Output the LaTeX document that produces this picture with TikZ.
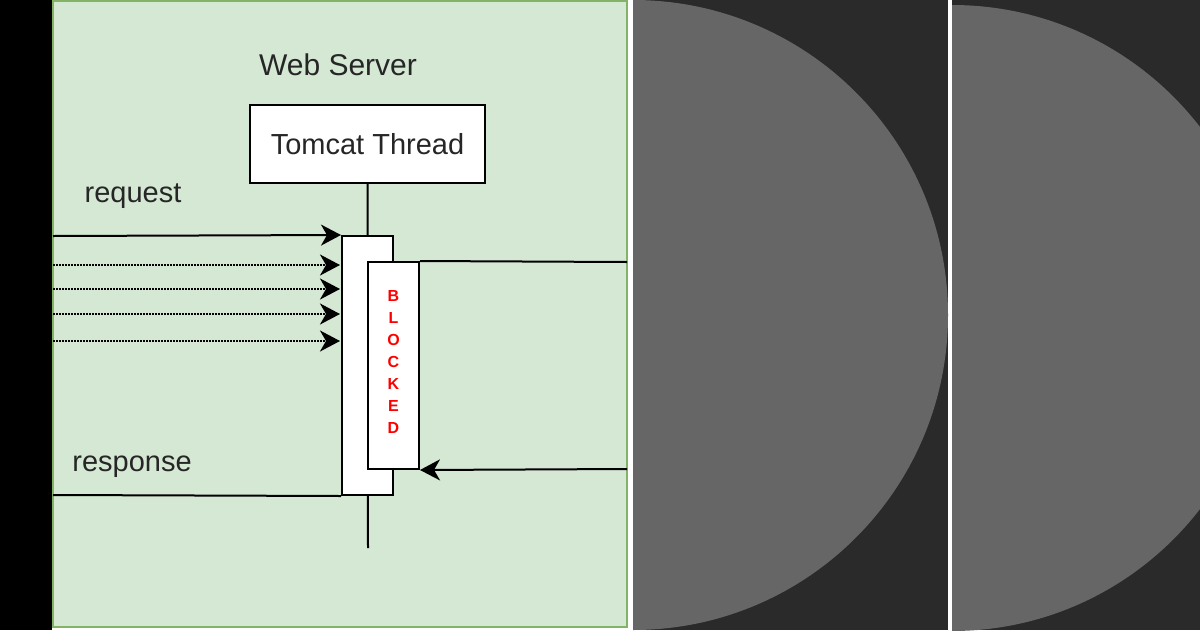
\documentclass[tikz,border=0pt]{standalone}
\usepackage{fontspec}
\setmainfont{Liberation Sans}
\usetikzlibrary{%
  arrows.meta,
  positioning
}
\definecolor{srvfill}{HTML}{D5E8D4}
\definecolor{srvline}{HTML}{82B366}
\definecolor{darkbg}{HTML}{2A2A2A}
\definecolor{discgray}{HTML}{666666}
\tikzset{
  box/.style={draw=black, line width=2, fill=white, inner sep=0pt},
  msg/.style={line width=2, -{Stealth[length=20, width=21, inset=6]}},
  msgdot/.style={msg, densely dotted},
  lbl/.style={font=\fontsize{29}{32}\selectfont, text=black!85}
}
\begin{document}
\begin{tikzpicture}[x=1pt, y=-1pt]
  \useasboundingbox (0,0) rectangle (1200,630) ;
  % backdrop
  \fill [black] (0,0) rectangle (52,630) ;
  \fill [white] (628,0) rectangle (1200,630) ;
  \fill [darkbg] (633,0) rectangle (948,630) ;
  \fill [darkbg] (952,0) rectangle (1200,630) ;
  \begin{scope}
    \clip (633,0) rectangle (948,630) ;
    \fill [discgray] (633,315) circle [radius=315] ;
  \end{scope}
  \begin{scope}
    \clip (952,0) rectangle (1200,630) ;
    \fill [discgray] (952,318) circle [radius=313] ;
  \end{scope}
  \draw [fill=srvfill, draw=srvline, line width=2] (53,1) rectangle (627,627) ;

  % server and thread
  \node [lbl, font=\fontsize{30}{32}\selectfont] (server) at (338,65) {Web Server} ;
  \node [box, minimum width=235, minimum height=78, lbl] (thread) at (367.5,144) {Tomcat Thread} ;
  \coordinate (lifeend) at (368,548) ;
  \draw [line width=2] (thread.south) -- (lifeend) ;

  % activations
  \node [box, minimum width=51, minimum height=259] (outer) at (367.5,365.5) {} ;
  \node [box, minimum width=51, minimum height=207] (inner) at (393.5,365.5) {} ;
  \node [text=red, font=\bfseries\fontsize{16}{22}\selectfont, align=center] (blk)
        at (393.5,362) {B\\L\\O\\C\\K\\E\\D} ;

  % incoming requests
  \coordinate (reqin) at (53,236) ;
  \node [lbl, anchor=center] (request) at (133,196) {request} ;
  \draw [msg] (reqin) -- (outer.north west) ;
  \foreach \y [count=\i] in {265,289,314,341} {
    \coordinate (dotin\i) at (53,\y) ;
    \draw [msgdot] (dotin\i) -- (340,\y) ;
  }

  % outgoing call and reply
  \coordinate (callout) at (627,262) ;
  \coordinate (callback) at (627,469) ;
  \draw [line width=2] (inner.north east) -- (callout) ;
  \draw [msg] (callback) -- (inner.south east) ;

  % response
  \coordinate (respout) at (53,495) ;
  \node [lbl] (response) at (132,467) {response} ;
  \draw [line width=2] (outer.south west) -- (respout) ;
\end{tikzpicture}
\end{document}
